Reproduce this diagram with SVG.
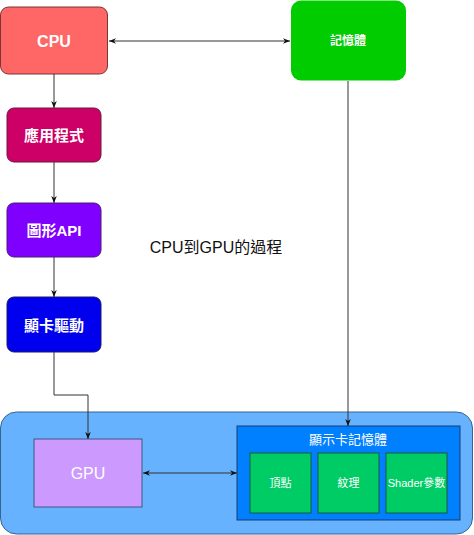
<svg xmlns="http://www.w3.org/2000/svg" width="474" height="535" viewBox="0 0 474 535">
<style>
text{font-family:"Liberation Sans","Noto Sans CJK TC",sans-serif;text-anchor:middle;dominant-baseline:central}
.w{fill:#fff;font-weight:bold;font-size:15px}
.s{fill:#fff;font-size:11px}
.ln{fill:none;stroke:#333;stroke-width:1}
</style>
<defs>
<marker id="a" viewBox="0 0 10 10" refX="10" refY="5" markerWidth="7" markerHeight="7" orient="auto-start-reverse">
<path d="M0,1 L10,5 L0,9 L3,5 Z" fill="#111"/>
</marker>
</defs>
<g id="outer"><rect x="0.5" y="412" width="472" height="122" rx="16" fill="#66B2FF" stroke="#36638f"/></g>
<g id="cpu"><rect x="0.5" y="7" width="107" height="67" rx="8" fill="#FF6666" stroke="#7a3535"/><text class="w" x="54" y="41" style="font-size:16px">CPU</text></g>
<g id="mem"><rect x="291" y="0.5" width="115" height="80" rx="10" fill="#00CC00"/><text class="w" x="348" y="41" style="font-size:12px">記憶體</text></g>
<g id="app"><rect x="7" y="108" width="94" height="54" rx="7" fill="#CC0066" stroke="#6a1a3a"/><text class="w" x="54" y="135">應用程式</text></g>
<g id="api"><rect x="7" y="203" width="94" height="54" rx="7" fill="#7F00FF" stroke="#4a1a7a"/><text class="w" x="54" y="230">圖形API</text></g>
<g id="drv"><rect x="7" y="297" width="94" height="55" rx="7" fill="#0000EE" stroke="#1a1a6a"/><text class="w" x="54" y="325">顯卡驅動</text></g>
<g id="title"><text x="216" y="247" style="font-size:16px;fill:#111">CPU到GPU的過程</text></g>
<g id="gpu"><rect x="34" y="439" width="108" height="68" fill="#CC99FF" stroke="#3a5a80"/><text x="88" y="473" style="fill:#fff;font-size:16px">GPU</text></g>
<g id="vram"><rect x="237" y="426" width="223" height="94" fill="#007FFF" stroke="#1a3d6e"/><text x="348" y="439" style="fill:#fff;font-size:13px">顯示卡記憶體</text></g>
<g id="vertex"><rect x="250" y="453" width="61" height="60" fill="#00CC66" stroke="#1a5a3a"/><text class="s" x="280.5" y="483">頂點</text></g>
<g id="texture"><rect x="318" y="453" width="61" height="60" fill="#00CC66" stroke="#1a5a3a"/><text class="s" x="348.5" y="483">紋理</text></g>
<g id="shader"><rect x="386" y="453" width="61" height="60" fill="#00CC66" stroke="#1a5a3a"/><text class="s" x="416.5" y="483">Shader參數</text></g>
<g id="connectors">
<path class="ln" d="M109,41 H290" marker-start="url(#a)" marker-end="url(#a)"/>
<path class="ln" d="M54,74 V108" marker-end="url(#a)"/>
<path class="ln" d="M54,162 V203" marker-end="url(#a)"/>
<path class="ln" d="M54,257 V297" marker-end="url(#a)"/>
<path class="ln" d="M54,352 V395 H88 V439" marker-end="url(#a)"/>
<path class="ln" d="M348,81 V426" marker-end="url(#a)"/>
<path class="ln" d="M143,473 H237" marker-start="url(#a)" marker-end="url(#a)"/>
</g>
</svg>
